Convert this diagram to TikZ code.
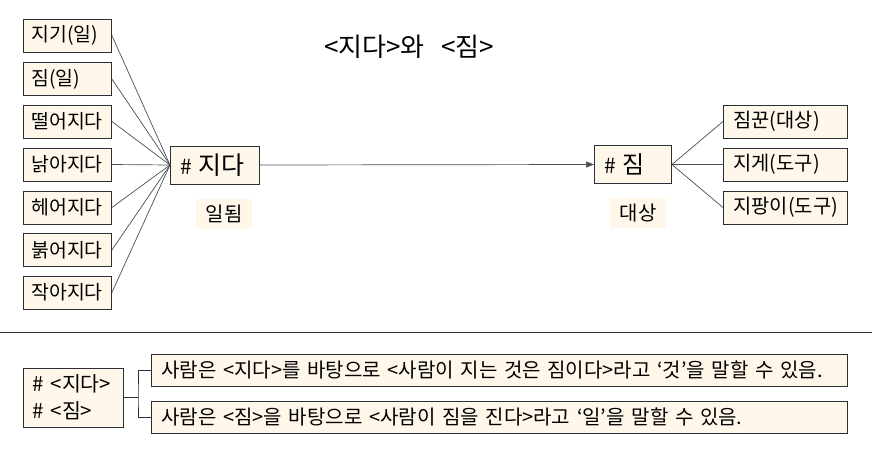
\documentclass[tikz,border=0pt]{standalone}
\usepackage{fontspec}
\setmainfont{Noto Sans CJK KR}[WordSpace=2.85]
\usetikzlibrary{arrows.meta}
\definecolor{cream}{HTML}{FFF8EA}
\definecolor{edge}{HTML}{2A2E35}
\definecolor{conn}{HTML}{4A4E55}
\tikzset{
  box/.style={draw=edge, line width=0.9pt, fill=cream, font=\fontsize{20}{23}\selectfont,
    inner xsep=0pt, inner ysep=0pt, align=left, anchor=west},
  leftbox/.style={box, font=\fontsize{19.4}{22}\selectfont, minimum height=33pt, text width=72pt, inner xsep=8pt},
  rightbox/.style={box, font=\fontsize{19.8}{22}\selectfont, minimum height=33pt, text width=104pt, inner xsep=10pt},
  bigbox/.style={box, minimum height=38pt, inner xsep=10pt},
  tag/.style={fill=cream, font=\fontsize{20}{23}\selectfont, minimum width=56pt, minimum height=30pt, inner sep=0pt},
  longbox/.style={box, minimum height=32pt, text width=676pt, inner xsep=10pt},
  conline/.style={draw=conn, line width=0.7pt},
}
\begin{document}
\begin{tikzpicture}[x=1pt,y=-1pt]
\useasboundingbox (0,0) rectangle (872,455);
% title
\node[font=\fontsize{26}{30}\selectfont] (title) at (409,47) {<지다>와 <짐>};
% left boxes
\node[leftbox] (l1) at (23,35.5) {지기(일)};
\node[leftbox] (l2) at (23,79) {짐(일)};
\node[leftbox] (l3) at (23,121.5) {떨어지다};
\node[leftbox] (l4) at (23,164.5) {낡아지다};
\node[leftbox] (l5) at (23,207.5) {헤어지다};
\node[leftbox] (l6) at (23,250) {붉어지다};
\node[leftbox] (l7) at (23,292.5) {작아지다};
% center boxes
\node[bigbox, text width=69pt] (jida) at (170,165) {\fontsize{21}{24}\selectfont\#\ \fontsize{25}{28}\selectfont 지다};
\node[tag] (iltoem) at (224,214) {일됨};
\node[bigbox, text width=57pt] (jim) at (594,164.5) {\fontsize{21}{24}\selectfont\#\ \fontsize{24}{28}\selectfont 짐};
\node[tag] (daesang) at (638,213) {대상};
% right boxes
\node[rightbox] (r1) at (723,121.5) {짐꾼(대상)};
\node[rightbox] (r2) at (723,164.5) {지게(도구)};
\node[rightbox] (r3) at (723,207.5) {지팡이(도구)};
% connectors
\foreach \i in {1,...,7} {\draw[conline] (l\i.east) -- (jida.west);}
\foreach \i in {1,2,3} {\draw[conline] (jim.east) -- (r\i.west);}
\draw[conline, -{Triangle[length=8pt,width=6pt]}] (jida.east) -- (jim.west);
% separator
\coordinate (sepL) at (-2,332);
\coordinate (sepR) at (880,332);
\draw[draw=edge, line width=0.9pt] (sepL) -- (sepR);
% bottom
\node[box, text width=82pt, inner xsep=9pt, minimum height=59pt, font=\fontsize{20.5}{27}\selectfont] (key) at (23,397.5) {\# <지다>\\\# <짐>};
\node[longbox] (b1) at (151,370) {사람은 <지다>를 바탕으로 <사람이 지는 것은 짐이다>라고 ‘것’을 말할 수 있음.};
\node[longbox] (b2) at (151,417) {사람은 <짐>을 바탕으로 <사람이 짐을 진다>라고 ‘일’을 말할 수 있음.};
\coordinate (brk) at (138,397.5);
\draw[draw=edge, line width=0.9pt] (key.east) -- (brk);
\draw[draw=edge, line width=0.9pt] (b1.west) -| (brk) |- (b2.west);
\end{tikzpicture}
\end{document}
